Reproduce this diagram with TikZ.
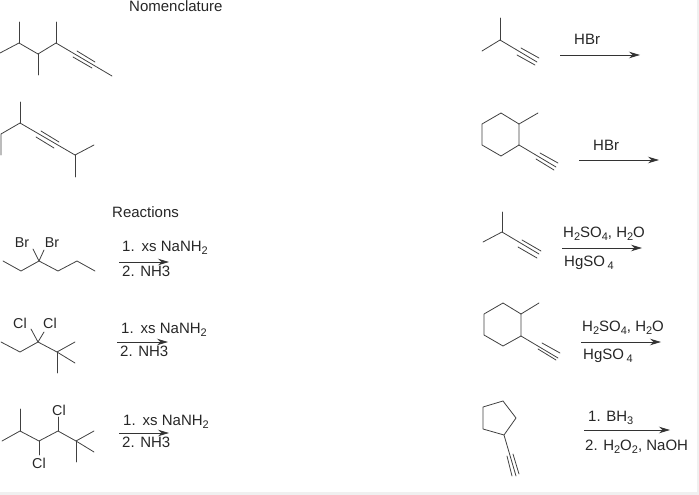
\documentclass[tikz,border=0pt]{standalone}
\usepackage{fontspec}
\setmainfont{Liberation Sans}
\usetikzlibrary{arrows.meta}
\newcommand{\lowsub}[1]{\raisebox{-3pt}{\fontsize{11}{11}\selectfont #1}}
\tikzset{
  bond/.style={draw=black!75,line width=0.8pt,line cap=round,line join=round},
  rxn/.style={draw=black!80,line width=0.8pt,-{Stealth[length=11pt,width=6.5pt]}},
  txt/.style={anchor=base west,inner sep=0pt,text=black!85,font=\fontsize{15}{17}\selectfont},
  atom/.style={anchor=center,inner sep=0pt,text=black!85,font=\fontsize{14.3}{16}\selectfont},
}
\begin{document}
\begin{tikzpicture}[x=1pt,y=-1pt]
\useasboundingbox (0,0) rectangle (699,495);
\fill[black!6] (697,0) rectangle (699,495);
\fill[black!6] (0,492) rectangle (699,495);
% titles
\node[txt] (t1) at (129,11.5) {Nomenclature};
\node[txt] (t2) at (112,217) {Reactions};
% molecule 1
\draw[bond] (0,53) -- (19,43) -- (38,54) -- (56,43) -- (112,76);
\draw[bond] (19,43) -- (19,22);
\draw[bond] (38,54) -- (38,75);
\draw[bond] (56,43) -- (56,22);
\draw[bond] (77,51) -- (95,62);
\draw[bond] (73,57) -- (92,68);
% molecule 2
\draw[bond] (1,155) -- (1,134) -- (20,123) -- (75,155) -- (94,145);
\draw[bond] (20,123) -- (20,102);
\draw[bond] (75,155) -- (75,177);
\draw[bond] (41,131) -- (59,142);
\draw[bond] (36,137) -- (54,148);
% molecule 3
\draw[bond] (3,261) -- (21,271) -- (39,261) -- (58,271) -- (77,261) -- (95,271);
\draw[bond] (39,261) -- (33,249);
\draw[bond] (39,261) -- (44,250);
\node[atom] (br1) at (22,243) {Br};
\node[atom] (br2) at (52,243) {Br};
% molecule 4
\draw[bond] (1,342) -- (20,352) -- (38,342) -- (57,352) -- (75,342);
\draw[bond] (57,352) -- (75,363);
\draw[bond] (57,352) -- (57,373);
\draw[bond] (38,342) -- (31,329);
\draw[bond] (38,342) -- (44,332);
\node[atom] (cl1) at (20,323) {Cl};
\node[atom] (cl2) at (50,323) {Cl};
% molecule 5
\draw[bond] (2,441) -- (20,431) -- (39,441) -- (58,431) -- (76,441) -- (94,431);
\draw[bond] (20,431) -- (20,409);
\draw[bond] (39,441) -- (39,455);
\draw[bond] (58,431) -- (58,417);
\draw[bond] (76,441) -- (94,452);
\draw[bond] (76,441) -- (76,462);
\node[atom] (cl3) at (59,410) {Cl};
\node[atom] (cl4) at (39,463) {Cl};
% left reactions
\coordinate (a1s) at (119,262); \coordinate (a1e) at (169,262);
\draw[rxn] (a1s) -- (a1e);
\node[txt] (l1a) at (122,251.5) {1.\hspace{7pt}xs NaNH\lowsub{2}};
\node[txt] (l1b) at (122,276.5) {2. NH3};
\coordinate (a2s) at (117,342); \coordinate (a2e) at (168,342);
\draw[rxn] (a2s) -- (a2e);
\node[txt] (l2a) at (121,333.5) {1.\hspace{7pt}xs NaNH\lowsub{2}};
\node[txt] (l2b) at (120,356) {2. NH3};
\coordinate (a3s) at (119,433); \coordinate (a3e) at (169,433);
\draw[rxn] (a3s) -- (a3e);
\node[txt] (l3a) at (123,425) {1.\hspace{7pt}xs NaNH\lowsub{2}};
\node[txt] (l3b) at (122,447) {2. NH3};
% molecule 6
\draw[bond] (482,51) -- (500,40) -- (537,62);
\draw[bond] (500,40) -- (500,18);
\draw[bond] (521,48) -- (539,58);
\draw[bond] (517,55) -- (535,65);
\coordinate (a4s) at (560,55); \coordinate (a4e) at (640,55);
\draw[rxn] (a4s) -- (a4e);
\node[txt] (r1) at (574,44.5) {HBr};
% molecule 7
\draw[bond] (519,124) -- (501,113) -- (482,124) -- (482,145) -- (501,156) -- (519,145) -- cycle;
\draw[bond] (519,124) -- (538,113);
\draw[bond] (519,145) -- (556,167);
\draw[bond] (540,153) -- (558,163);
\draw[bond] (536,159) -- (554,170);
\coordinate (a5s) at (579,160); \coordinate (a5e) at (659,160);
\draw[rxn] (a5s) -- (a5e);
\node[txt] (r2) at (593,150) {HBr};
% molecule 8
\draw[bond] (483,242) -- (502,232) -- (539,254);
\draw[bond] (502,232) -- (502,212);
\draw[bond] (522,240) -- (541,251);
\draw[bond] (518,247) -- (537,258);
\coordinate (a6s) at (562,248); \coordinate (a6e) at (642,248);
\draw[rxn] (a6s) -- (a6e);
\node[txt] (r3a) at (563,237.5) {H\lowsub{2}SO\lowsub{4}, H\lowsub{2}O};
\node[txt] (r3b) at (564,266) {HgSO\,\lowsub{4}};
% molecule 9
\draw[bond] (521,314) -- (503,303) -- (484,314) -- (484,335) -- (503,346) -- (521,336) -- cycle;
\draw[bond] (521,314) -- (539,303);
\draw[bond] (521,336) -- (558,358);
\draw[bond] (542,343) -- (560,353);
\draw[bond] (538,349) -- (556,360);
\coordinate (a7s) at (581,342); \coordinate (a7e) at (661,342);
\draw[rxn] (a7s) -- (a7e);
\node[txt] (r4a) at (582,331) {H\lowsub{2}SO\lowsub{4}, H\lowsub{2}O};
\node[txt] (r4b) at (583,359) {HgSO\,\lowsub{4}};
% molecule 10
\draw[bond] (503,401) -- (516,418) -- (504,435) -- (483,429) -- (483,407) -- cycle;
\draw[bond] (504,435) -- (516,476);
\draw[bond] (507,456) -- (512,476);
\draw[bond] (513,454) -- (519,474);
\coordinate (a8s) at (584,430); \coordinate (a8e) at (670,430);
\draw[rxn] (a8s) -- (a8e);
\node[txt] (r5a) at (588,421) {1. BH\lowsub{3}};
\node[txt] (r5b) at (585,450.5) {2. H\lowsub{2}O\lowsub{2}, NaOH};
\end{tikzpicture}
\end{document}
